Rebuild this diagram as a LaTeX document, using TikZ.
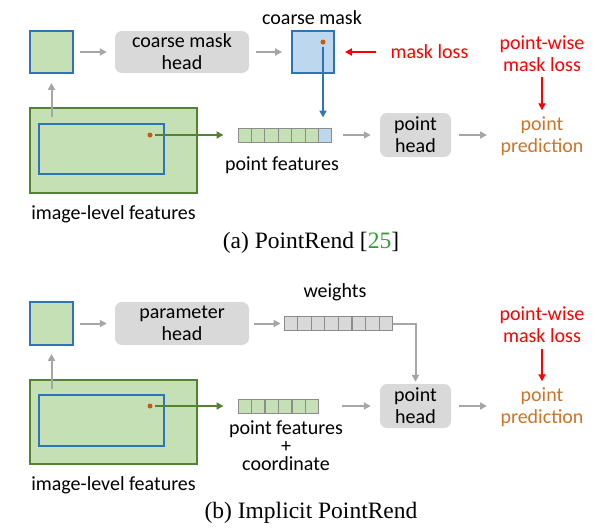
\documentclass[tikz,border=0pt]{standalone}
\usepackage{fontspec}
\setmainfont{Carlito}
\newfontfamily\capfont{Liberation Serif}
\usetikzlibrary{arrows.meta}
\definecolor{lgreen}{HTML}{C5E0B4}
\definecolor{dgreen}{HTML}{548235}
\definecolor{mblue}{HTML}{2E75B6}
\definecolor{lblue}{HTML}{BDD7EE}
\definecolor{lgray}{HTML}{D9D9D9}
\definecolor{agray}{HTML}{A6A6A6}
\definecolor{cgray}{HTML}{8C8C8C}
\definecolor{orng}{HTML}{C55A11}
\definecolor{ptorange}{HTML}{CC7428}
\definecolor{cgreen}{HTML}{2E9E2E}
\tikzset{
  arrtip/.style={-{Triangle[length=7pt,width=7pt]}},
  garrow/.style={arrtip, draw=agray, line width=2pt},
  redarrow/.style={arrtip, draw=red, line width=2pt},
  bluearrow/.style={arrtip, draw=mblue, line width=1.8pt},
  greenarrow/.style={arrtip, draw=dgreen, line width=1.8pt},
  headbox/.style={fill=lgray, rounded corners=7pt, align=center, inner sep=0pt, font=\fontsize{20}{22}\selectfont},
  fmap/.style={fill=lgreen, draw=mblue, line width=1.8pt, inner sep=0pt},
  bigmap/.style={fill=lgreen, draw=dgreen, line width=2pt, inner sep=0pt},
  cell/.style={draw=cgray, line width=1pt, minimum width=13.4pt, minimum height=14pt, inner sep=0pt},
  lbl/.style={font=\fontsize{20}{22}\selectfont, align=center, inner sep=0pt},
  captxt/.style={font=\capfont\fontsize{23.5}{26}\selectfont, inner sep=0pt},
  dot/.style={circle, fill=orng, minimum size=5pt, inner sep=0pt}
}
\begin{document}
\begin{tikzpicture}[x=1pt, y=-1pt]
\useasboundingbox (0,0) rectangle (598,531);
% ===== (a) PointRend =====
\node[fmap, minimum width=43pt, minimum height=42pt] (sqA) at (51.5,52) {};
\node[headbox, minimum width=134pt, minimum height=42pt] (cmh) at (182,52) {coarse mask\\head};
\node[fill=lblue, draw=mblue, line width=1.8pt, minimum width=42pt, minimum height=42pt, inner sep=0pt] (cm) at (313,52) {};
\node[lbl, anchor=base] (cmlbl) at (312,24) {coarse mask};
\node[dot] (cmdot) at (323,42) {};
\node[bigmap, minimum width=167pt, minimum height=85pt] (imgA) at (113.5,150.5) {};
\node[fill=lgreen, draw=mblue, line width=1.8pt, minimum width=125pt, minimum height=50pt, inner sep=0pt] (inA) at (101.5,149) {};
\node[dot] (dotA) at (150,135) {};
\node[lbl, anchor=base] (imglblA) at (113.5,219) {image-level features};
\foreach \i in {0,...,5} {
  \node[cell, fill=lgreen] (pa\i) at ({244.7+13.4*\i},135) {};
}
\node[cell, fill=lblue] (pa6) at ({244.7+13.4*6},135) {};
\node[lbl, anchor=base] (pflblA) at (282,170) {point features};
\node[headbox, minimum width=71pt, minimum height=44pt] (phA) at (415.5,135) {point\\head};
\node[lbl, text=red] (mloss) at (429.5,52) {mask loss};
\node[lbl, text=red] (pwA) at (542,54) {point-wise\\mask loss};
\node[lbl, text=ptorange] (ppA) at (542,136) {point\\prediction};
\node[captxt, anchor=base] (capA) at (311,248) {(a) PointRend [\textcolor{cgreen}{25}]};

\draw[garrow] ([xshift=6pt]sqA.east) -- ([xshift=-8pt]cmh.west);
\draw[garrow] ([xshift=7pt]cmh.east) -- ([xshift=-9pt]cm.west);
\draw[garrow] (sqA.south |- inA.north) ++(0,-6) -- ([yshift=-9pt]sqA.south);
\draw[greenarrow] ([xshift=5pt]dotA.center) -- ([xshift=-14pt]pa0.west);
\draw[bluearrow] ([yshift=-5pt]cmdot.center) -- ([yshift=10pt]cmdot |- pa6.north);
\draw[redarrow] ([xshift=-14pt]mloss.west) -- ([xshift=10pt]cm.east);
\draw[garrow] ([xshift=11pt]pa6.east) -- ([xshift=-9pt]phA.west);
\draw[garrow] ([xshift=8pt]phA.east) -- (487,135);
\draw[redarrow] ([yshift=-5pt]pwA.south) -- ([yshift=6pt]ppA.north);

% ===== (b) Implicit PointRend =====
\node[fmap, minimum width=43pt, minimum height=43pt] (sqB) at (51.5,323.5) {};
\node[headbox, minimum width=134pt, minimum height=43pt] (prh) at (182,323.5) {parameter\\head};
\foreach \i in {0,...,7} {
  \node[cell, fill=lgray] (w\i) at ({290.8+13.6*\i},323.5) {};
}
\node[lbl, anchor=base] (wlbl) at (335,297) {weights};
\node[bigmap, minimum width=167pt, minimum height=84pt] (imgB) at (113.5,422) {};
\node[fill=lgreen, draw=mblue, line width=1.8pt, minimum width=125pt, minimum height=51pt, inner sep=0pt] (inB) at (101.5,420.5) {};
\node[dot] (dotB) at (150,406) {};
\node[lbl, anchor=base] (imglblB) at (113.5,490) {image-level features};
\foreach \i in {0,...,5} {
  \node[cell, fill=lgreen] (pb\i) at ({244.7+13.5*\i},406) {};
}
\node[lbl, font=\fontsize{20}{18}\selectfont] (pflblB) at (286,446) {point features\\+\\coordinate};
\node[headbox, minimum width=71pt, minimum height=44pt] (phB) at (415.5,406) {point\\head};
\node[lbl, text=red] (pwB) at (542,325) {point-wise\\mask loss};
\node[lbl, text=ptorange] (ppB) at (542,407) {point\\prediction};
\node[captxt, anchor=base] (capB) at (311,518) {(b) Implicit PointRend};

\draw[garrow] ([xshift=6pt]sqB.east) -- ([xshift=-8pt]prh.west);
\draw[garrow] ([xshift=5pt]prh.east) -- ([xshift=-3pt]w0.west);
\draw[garrow] (sqB.south |- inB.north) ++(0,-5) -- ([yshift=-8pt]sqB.south);
\draw[greenarrow] ([xshift=5pt]dotB.center) -- ([xshift=-14pt]pb0.west);
\draw[garrow] (w7.east) -| ([yshift=2pt]phB.north);
\draw[garrow] ([xshift=23pt]pb5.east) -- ([xshift=-9pt]phB.west);
\draw[garrow] ([xshift=8pt]phB.east) -- (487,406);
\draw[redarrow] ([yshift=-6pt]pwB.south) -- ([yshift=6pt]ppB.north);
\end{tikzpicture}
\end{document}
